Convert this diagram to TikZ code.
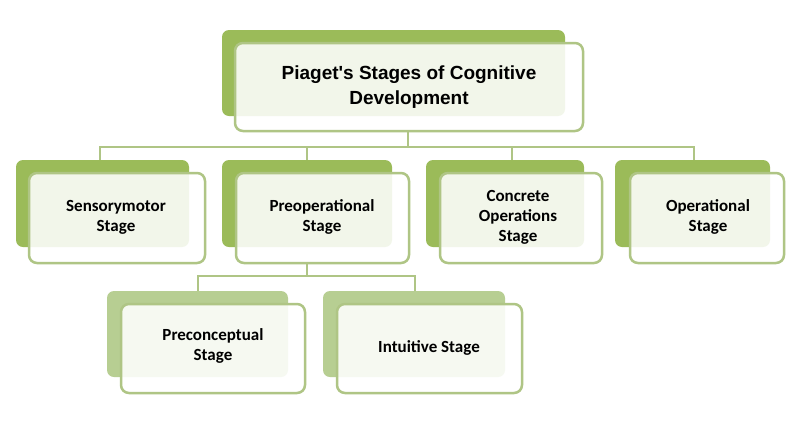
\documentclass[tikz,border=0pt]{standalone}
\usepackage{fontspec}
\setmainfont{Carlito}
\newfontfamily\titlefont{Liberation Sans}
\begin{document}
\begin{tikzpicture}[x=1pt,y=-1pt,
  back/.style={fill=#1,rounded corners=7pt,draw=none},
  front/.style={fill=white,fill opacity=0.88,draw=bord,line width=2.5pt,rounded corners=8pt,text opacity=1},
  lbl/.style={font=\bfseries\fontsize{17}{20}\selectfont,align=center,text=black},
  conn/.style={draw=bord,line width=2.5pt}]
\definecolor{dk}{HTML}{9BBB59}
\definecolor{lt}{HTML}{B7CE92}
\definecolor{bord}{HTML}{AFC585}
\useasboundingbox (0,0) rectangle (809,421);
\fill[white] (0,0) rectangle (809,421);
% connectors
\coordinate (h1) at (100,147); \coordinate (h2) at (694,147);
\draw[conn] (408,131) -- (408,147);
\draw[conn] (100,160) -- (100,147) -- (694,147) -- (694,160);
\draw[conn] (307,147) -- (307,160);
\draw[conn] (512,147) -- (512,160);
\draw[conn] (307,263) -- (307,276);
\draw[conn] (198,291) -- (198,276) -- (415,276) -- (415,291);
% title
\path[back=dk] (222,30) rectangle (565,116);
\path[front] (235,43) rectangle (583,131);
\node[font=\titlefont\bfseries\fontsize{19}{25}\selectfont,align=center] (t) at (409,87) {Piaget's Stages of Cognitive\\Development};
% row 2
\path[back=dk] (16,160) rectangle (189,247);
\path[front] (29,173) rectangle (205,263);
\node[lbl] (s1) at (116,217) {Sensorymotor\\Stage};
\path[back=dk] (222,160) rectangle (392,247);
\path[front] (236,173) rectangle (409,263);
\node[lbl] (s2) at (322,217) {Preoperational\\Stage};
\path[back=dk] (426,160) rectangle (584,247);
\path[front] (440,173) rectangle (602,263);
\node[lbl] (s3) at (518,217) {Concrete\\Operations\\Stage};
\path[back=dk] (615,160) rectangle (770,247);
\path[front] (630,173) rectangle (784,263);
\node[lbl] (s4) at (708,217) {Operational\\Stage};
% row 3
\path[back=lt] (107,291) rectangle (288,377);
\path[front] (121,304) rectangle (305,393);
\node[lbl] (s5) at (213,346) {Preconceptual\\Stage};
\path[back=lt] (323,291) rectangle (505,377);
\path[front] (337,304) rectangle (522,393);
\node[lbl] (s6) at (429,348) {Intuitive Stage};
\end{tikzpicture}
\end{document}
